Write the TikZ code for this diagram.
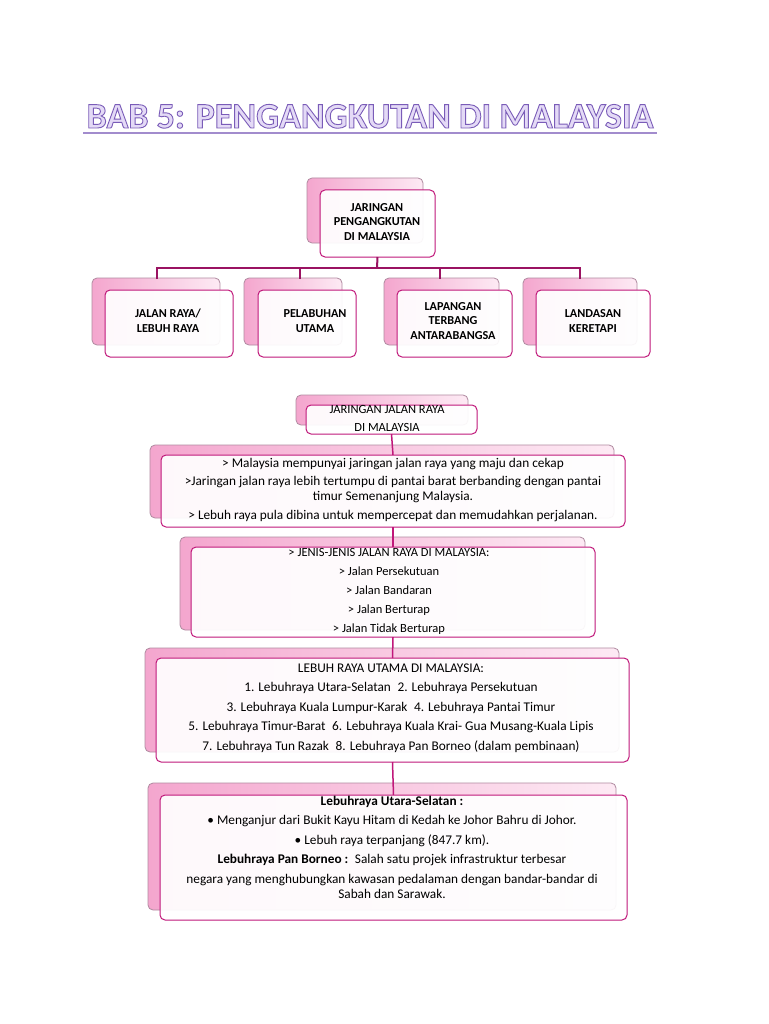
\documentclass[tikz,border=0pt]{standalone}
\usepackage{fontspec}
\setmainfont{Carlito}
\usetikzlibrary{calc}
\definecolor{mag}{HTML}{C0187A}
\definecolor{pinkA}{HTML}{F4A6CE}
\definecolor{pinkB}{HTML}{FDEAF4}
\definecolor{backline}{HTML}{B08AA0}
\definecolor{lav}{HTML}{E4DAF6}
\definecolor{purp}{HTML}{7A5BB8}
\tikzset{
 backbox/.style={draw=backline,line width=0.8pt,rounded corners=5pt,left color=pinkA,right color=pinkB},
 frontbox/.style={draw=mag,line width=1pt,rounded corners=5pt,fill=white,fill opacity=0.93},
 conn/.style={draw=mag!80!black,line width=2pt},
 txt/.style={font=\fontsize{13.3}{15}\selectfont,align=center},
 btxt/.style={font=\fontsize{12.2}{14.5}\selectfont\bfseries,align=center},
}
\newcommand{\dbox}[9]{%
 \path[backbox] (#1,#2) rectangle (#3,#4);
 \path[frontbox] (#5,#6) rectangle (#7,#8) ;
 \coordinate (#9) at ($(#5,#6)!0.5!(#7,#8)$);
 \coordinate (#9t) at ($(#5,#6)!0.5!(#7,#6)$);
 \coordinate (#9b) at ($(#5,#8)!0.5!(#7,#8)$);
}
\newcommand{\outlined}[1]{\special{pdf:code q 2 Tr 0.9 w 0.48 0.36 0.72 RG}#1\special{pdf:code Q}}
\begin{document}
\begin{tikzpicture}[x=1pt,y=-1pt]
\useasboundingbox (0,0) rectangle (768,1024);
\fill[white] (0,0) rectangle (768,1024);
\node[anchor=base,text=lav,font=\fontsize{36}{40}\selectfont\bfseries,inner sep=0pt] (title) at (370,128) {\outlined{BAB 5: PENGANGKUTAN DI MALAYSIA}};
\draw[purp!70,line width=2pt] (83,133) -- (657,133);
% top
\dbox{307}{178}{423}{243}{320}{190}{435}{257}{top}
\node[btxt] (topt) at (377,222) {JARINGAN\\PENGANGKUTAN\\DI MALAYSIA};
\dbox{92}{278}{220}{345}{105}{290}{233}{357}{c1}
\dbox{244}{278}{342}{345}{258}{290}{356}{357}{c2}
\dbox{384}{278}{499}{345}{397}{290}{512}{357}{c3}
\dbox{523}{278}{637}{345}{536}{290}{650}{357}{c4}
\draw[conn] (topb) -- (377,268) coordinate (hub);
\draw[conn] (157,279) -- (157,268) -- (580,268) -- (580,279);
\draw[conn] (300,268) -- (300,279);
\draw[conn] (440,268) -- (440,279);
\node[btxt] (c1t2) at (168,321) {JALAN RAYA/\\LEBUH RAYA};
\node[btxt] (c2t2) at (315,321) {PELABUHAN\\UTAMA};
\node[btxt] (c3t2) at (453,321) {LAPANGAN\\TERBANG\\ANTARABANGSA};
\node[btxt] (c4t2) at (593,321) {LANDASAN\\KERETAPI};
% section 2
\dbox{296}{395}{468}{425}{306}{405}{477}{434}{h}
\dbox{150}{445}{614}{518}{161}{455}{625}{527}{a}
\dbox{180}{537}{585}{630}{191}{547}{595}{637}{b}
\dbox{145}{648}{619}{752}{156}{658}{629}{762}{c}
\dbox{148}{783}{616}{910}{160}{795}{627}{920}{d}
\draw[mag,line width=1.5pt] (hb) -- (at);
\draw[mag,line width=1.5pt] (ab) -- (bt);
\draw[mag,line width=1.5pt] (bb) -- (ct);
\draw[mag,line width=1.5pt] (cb) -- (dt);
\node[txt,font=\fontsize{12.5}{14}\selectfont] (ht) at (387,418) {JARINGAN JALAN RAYA\\[4pt]DI MALAYSIA};
\node[txt] (atx) at (393,490) {> Malaysia mempunyai jaringan jalan raya yang maju dan cekap\\[3pt]
>Jaringan jalan raya lebih tertumpu di pantai barat berbanding dengan pantai\\timur Semenanjung Malaysia.\\[4pt]
> Lebuh raya pula dibina untuk mempercepat dan memudahkan perjalanan.};
\node[txt,font=\fontsize{12.5}{14}\selectfont] (btx) at (389,591) {> JENIS-JENIS JALAN RAYA DI MALAYSIA:\\[5pt]> Jalan Persekutuan\\[5pt]> Jalan Bandaran\\[5pt]> Jalan Berturap\\[5pt]> Jalan Tidak Berturap};
\node[txt] (ctx) at (391,708) {LEBUH RAYA UTAMA DI MALAYSIA:\\[4.5pt]1. Lebuhraya Utara-Selatan\enspace 2. Lebuhraya Persekutuan\\[4.5pt]3. Lebuhraya Kuala Lumpur-Karak\enspace 4. Lebuhraya Pantai Timur\\[4.5pt]5. Lebuhraya Timur-Barat\enspace 6. Lebuhraya Kuala Krai- Gua Musang-Kuala Lipis\\[4.5pt]7. Lebuhraya Tun Razak\enspace 8. Lebuhraya Pan Borneo (dalam pembinaan)};
\node[txt] (dtx) at (392,847) {\textbf{Lebuhraya Utara-Selatan :}\\[4.5pt]• Menganjur dari Bukit Kayu Hitam di Kedah ke Johor Bahru di Johor.\\[4.5pt]• Lebuh raya terpanjang (847.7 km).\\[4.5pt]\textbf{Lebuhraya Pan Borneo :}\enspace Salah satu projek infrastruktur terbesar\\[4.5pt]negara yang menghubungkan kawasan pedalaman dengan bandar-bandar di\\Sabah dan Sarawak.};
\end{tikzpicture}
\end{document}
